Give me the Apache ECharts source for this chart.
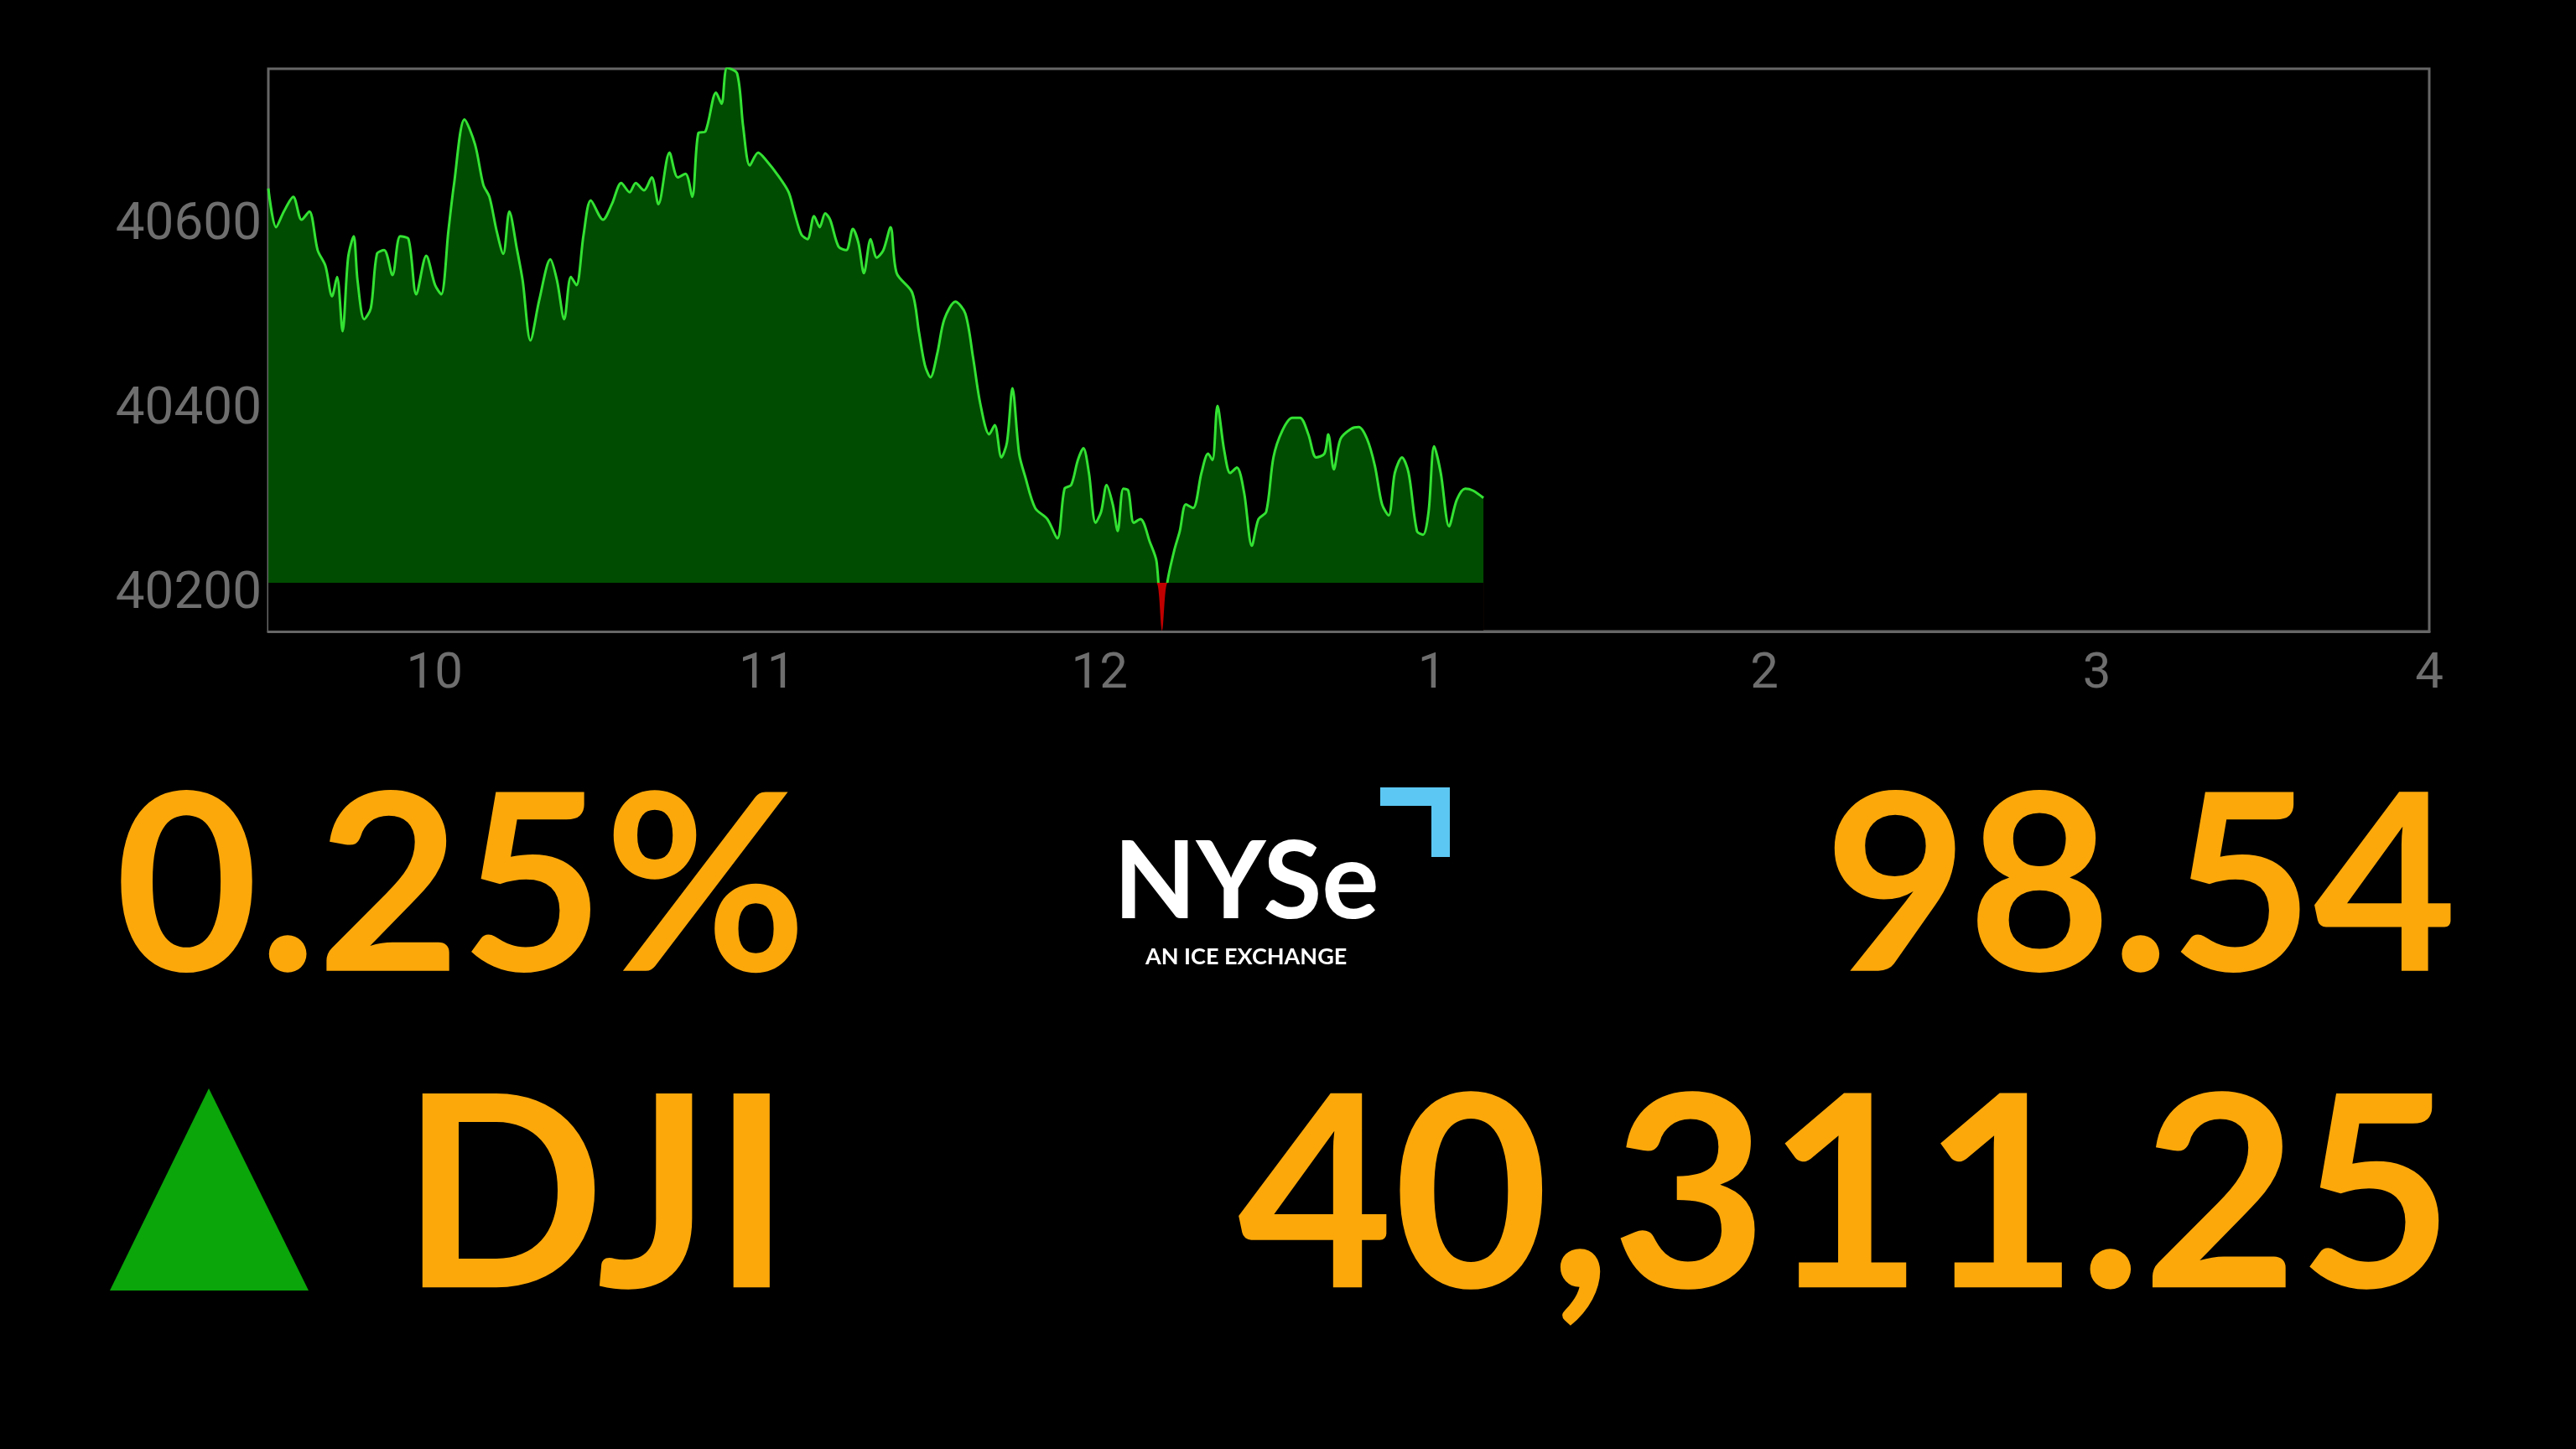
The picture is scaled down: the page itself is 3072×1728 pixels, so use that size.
<!DOCTYPE html>
<html><head><meta charset="utf-8">
<script src="https://cdn.jsdelivr.net/npm/echarts@6/dist/echarts.min.js"></script>
<style>html,body{margin:0;background:#000}#c{width:3072px;height:1728px}</style>
</head><body><div id="c"></div>
<script>
// minutes after 9:30
const minutes = [0,1.4,2.8,4.5,6,7.4,8.9,10.3,11.5,12.4,13.4,14.4,15.4,16.1,17.3,18.5,19.6,20.9,22.4,23.8,25.3,26.7,28.5,30.1,31.2,32.5,33.5,35.4,37.3,38.8,39.9,41.2,42.4,43.5,44.9,45.9,47.3,48.9,50.9,52.1,53.4,54.6,55.6,56.9,58.2,60.4,62,63.7,65.2,66.3,67.8,69.2,70.4,72.4,73.9,75.3,76.5,77.6,78.9,80.8,81.8,82.8,84.6,85.7,86.9,88.4,89.8,92,93.9,94.9,96.2,97.3,98.5,99.5,100.5,101.4,102.9,104.3,105.5,106.5,107.5,108.7,109.8,111,112.3,113.4,116.2,117.4,118.5,119.5,120.7,122,124,125.8,127.2,128.5,130.1,131.1,132.3,133.3,134.3,135.5,136.6,138.4,140.6,142.4,143.7,144.9,146.1,147.1,148.1,149.3,150.3,151.3,152.4,153.3,154.3,155.2,156.2,157.4,159.1,160.3,161.3,162.3,163.5,164.5,165.6,166.9,168.4,169.6,170.4,171.3,172.5,173.6,174.8,176.1,177.5,178.7,180.1,181.4,183,184.8,186.2,187.7,189.1,190.6,191.3,192.3,193.5,195.4,196.8,198.3,199.7,201,202.2,203.3,204.6,205.8,207.3,208.4,209.4,210.4,211.6,213.1,214.5,216,217.4,219.3];
const prices = [40641,40599,40616,40632,40607,40616,40574,40557,40524,40545,40486,40566,40589,40541,40499,40511,40570,40574,40547,40589,40586,40526,40568,40536,40526,40595,40645,40716,40689,40645,40632,40595,40570,40616,40574,40541,40476,40520,40564,40541,40499,40545,40536,40591,40628,40607,40624,40647,40637,40647,40639,40653,40624,40680,40653,40657,40632,40701,40703,40745,40733,40772,40766,40708,40666,40680,40672,40655,40637,40616,40591,40586,40611,40599,40614,40607,40578,40574,40597,40582,40549,40586,40566,40574,40599,40549,40528,40486,40449,40436,40461,40499,40518,40505,40457,40407,40374,40384,40349,40365,40424,40353,40328,40294,40282,40261,40315,40319,40346,40359,40332,40278,40290,40319,40298,40269,40315,40313,40278,40282,40257,40236,40161,40215,40248,40269,40298,40294,40332,40353,40346,40405,40357,40332,40338,40311,40253,40282,40290,40349,40378,40392,40392,40374,40349,40353,40374,40336,40369,40380,40382,40369,40340,40298,40286,40332,40349,40332,40269,40265,40290,40361,40332,40274,40303,40315,40313,40305];
const prevClose = 40212.71;
const yTicks = [40200, 40400, 40600];
const hourLabels = {30:'10',90:'11',150:'12',210:'1',270:'2',330:'3',390:'4'};
const pctText = '0.25%', chgText = '98.54', symText = 'DJI', priceText = '40,311.25';

const data = minutes.map((m,i)=>[m,prices[i]]);
const baseData = minutes.map(m=>[m,prevClose]);
const lowData = minutes.map((m,i)=>[m,Math.min(prices[i],prevClose)]);
const ORANGE = '#fca80a';
const chart = echarts.init(document.getElementById('c'));
chart.setOption({
  backgroundColor:'#000',
  animation:false,
  grid:{left:320,right:175,top:82,bottom:975,show:true,borderColor:'#666',borderWidth:3,backgroundColor:'transparent'},
  xAxis:{type:'value',min:0,max:390,interval:30,z:10,
    axisLine:{show:true,lineStyle:{color:'#666',width:3}},axisTick:{show:false},splitLine:{show:false},
    axisLabel:{color:'#6e6e6e',fontSize:60,fontFamily:'Roboto',margin:22,
      formatter:v=>hourLabels[v]||''}},
  yAxis:{type:'value',min:40160,max:40771,
    axisLine:{show:false},axisTick:{show:false},splitLine:{show:false},
    axisLabel:{color:'#6e6e6e',fontSize:62,fontFamily:'Roboto',margin:8,
      customValues:yTicks,formatter:v=>String(v)}},
  series:[
    {type:'line',data:data,symbol:'none',smooth:0.3,lineStyle:{width:3,color:'#33e233'},
      areaStyle:{origin:'start',color:'#004c00',opacity:1},z:1,silent:true},
    {type:'line',data:baseData,symbol:'none',lineStyle:{width:0,opacity:0},
      areaStyle:{origin:'start',color:'#c00000',opacity:1},z:2,silent:true},
    {type:'line',data:lowData,symbol:'none',smooth:0.3,lineStyle:{width:0,opacity:0},
      areaStyle:{origin:'start',color:'#000',opacity:1},z:3,silent:true}
  ],
  graphic:[
    {type:'text',left:137,top:915,style:{text:pctText,fill:ORANGE,font:'bold 295px Lato'}},
    {type:'text',right:142,top:915,style:{text:chgText,fill:ORANGE,font:'bold 295px Lato'}},
    {type:'text',left:478,top:1272,style:{text:symText,fill:ORANGE,font:'bold 320px Lato'}},
    {type:'text',right:146,top:1272,style:{text:priceText,fill:ORANGE,font:'bold 320px Lato'}},
    {type:'polygon',shape:{points:[[131,1539],[368,1539],[249,1298]]},style:{fill:'#0aa60a'}},
    {type:'text',left:1328,top:990,style:{text:'NYSe',fill:'#fff',font:'bold 128px Lato'}},
    {type:'text',left:1366,top:1128,style:{text:'AN ICE EXCHANGE',fill:'#fff',font:'bold 27px Lato'}},
    {type:'polyline',shape:{points:[[1646,950],[1718,950],[1718,1022]]},style:{stroke:'#5cc7f2',lineWidth:22,fill:null}}
  ]
});
</script></body></html>
